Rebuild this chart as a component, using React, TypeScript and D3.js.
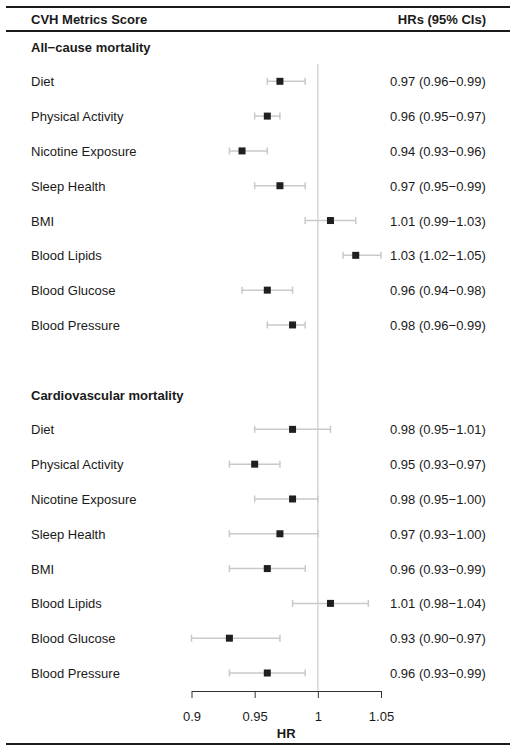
import React, { useEffect, useRef } from 'react';
import * as d3 from 'd3';

const metrics = [
  'Diet',
  'Physical Activity',
  'Nicotine Exposure',
  'Sleep Health',
  'BMI',
  'Blood Lipids',
  'Blood Glucose',
  'Blood Pressure',
];
const groups = ['All\u2212cause mortality', 'Cardiovascular mortality'];

const allHR = [0.97, 0.96, 0.94, 0.97, 1.01, 1.03, 0.96, 0.98];
const allLo = [0.96, 0.95, 0.93, 0.95, 0.99, 1.02, 0.94, 0.96];
const allHi = [0.99, 0.97, 0.96, 0.99, 1.03, 1.05, 0.98, 0.99];

const cvHR = [0.98, 0.95, 0.98, 0.97, 0.96, 1.01, 0.93, 0.96];
const cvLo = [0.95, 0.93, 0.95, 0.93, 0.93, 0.98, 0.9, 0.93];
const cvHi = [1.01, 0.97, 1.0, 1.0, 0.99, 1.04, 0.97, 0.99];

const xTicks = [0.9, 0.95, 1, 1.05];

interface Row {
  label: string;
  hr: number;
  lo: number;
  hi: number;
  idx: number;
}

const fmt = (v: number) => v.toFixed(2);

const App: React.FC = () => {
  const svgRef = useRef<SVGSVGElement>(null);
  const width = 526;
  const height = 753;

  useEffect(() => {
    if (!svgRef.current) return;
    const svg = d3.select(svgRef.current);
    svg.selectAll('*').remove();

    const font = '"Liberation Sans", Arial, Helvetica, sans-serif';
    const textColor = '#1a1a1a';

    // rows: 0 header, 1-8 items, 9 blank, 10 header, 11-18 items
    const yScale = d3.scaleLinear().domain([0, 18]).range([46.5, 673]);
    const xScale = d3.scaleLinear().domain([0.9, 1.05]).range([191.5, 381]);
    const axisY = 691;

    const rows: Row[] = [
      ...metrics.map((m, i) => ({ label: m, hr: allHR[i], lo: allLo[i], hi: allHi[i], idx: i + 1 })),
      ...metrics.map((m, i) => ({ label: m, hr: cvHR[i], lo: cvLo[i], hi: cvHi[i], idx: i + 11 })),
    ];

    // frame lines
    const hline = (y: number) =>
      svg
        .append('line')
        .attr('x1', 6)
        .attr('x2', 510)
        .attr('y1', y)
        .attr('y2', y)
        .attr('stroke', textColor)
        .attr('stroke-width', 2);
    hline(7);
    hline(31);
    hline(744);

    // column headers
    svg
      .append('text')
      .attr('x', 31)
      .attr('y', 19.5)
      .attr('dominant-baseline', 'central')
      .style('font-family', font)
      .style('font-size', '13px')
      .style('font-weight', 'bold')
      .attr('fill', textColor)
      .text('CVH Metrics Score');

    svg
      .append('text')
      .attr('x', 486)
      .attr('y', 19.5)
      .attr('text-anchor', 'end')
      .attr('dominant-baseline', 'central')
      .style('font-family', font)
      .style('font-size', '13px')
      .style('font-weight', 'bold')
      .attr('fill', textColor)
      .text('HRs (95% CIs)');

    // group headers
    svg
      .selectAll('.group')
      .data(groups)
      .enter()
      .append('text')
      .attr('x', 31)
      .attr('y', (_d, i) => yScale(i * 10) + 0.5)
      .attr('dominant-baseline', 'central')
      .style('font-family', font)
      .style('font-size', '13px')
      .style('font-weight', 'bold')
      .attr('fill', textColor)
      .text(d => d);

    // reference line at HR = 1
    svg
      .append('line')
      .attr('x1', xScale(1))
      .attr('x2', xScale(1))
      .attr('y1', 64)
      .attr('y2', axisY)
      .attr('stroke', '#d6d6d6')
      .attr('stroke-width', 1.5);

    // labels
    svg
      .selectAll('.label')
      .data(rows)
      .enter()
      .append('text')
      .attr('x', 31)
      .attr('y', d => yScale(d.idx) + 0.5)
      .attr('dominant-baseline', 'central')
      .style('font-family', font)
      .style('font-size', '13px')
      .attr('fill', textColor)
      .text(d => d.label);

    // value text
    svg
      .selectAll('.value')
      .data(rows)
      .enter()
      .append('text')
      .attr('x', 390)
      .attr('y', d => yScale(d.idx) + 0.5)
      .attr('dominant-baseline', 'central')
      .style('font-family', font)
      .style('font-size', '13px')
      .attr('fill', textColor)
      .text(d => `${fmt(d.hr)} (${fmt(d.lo)}\u2212${fmt(d.hi)})`);

    // CIs
    const ciColor = '#c9c9c9';
    const ci = svg.selectAll('.ci').data(rows).enter().append('g');
    ci.append('line')
      .attr('x1', d => xScale(d.lo))
      .attr('x2', d => xScale(d.hi))
      .attr('y1', d => yScale(d.idx))
      .attr('y2', d => yScale(d.idx))
      .attr('stroke', ciColor)
      .attr('stroke-width', 1.5);
    ci.append('line')
      .attr('x1', d => xScale(d.lo))
      .attr('x2', d => xScale(d.lo))
      .attr('y1', d => yScale(d.idx) - 3.5)
      .attr('y2', d => yScale(d.idx) + 3.5)
      .attr('stroke', ciColor)
      .attr('stroke-width', 1.5);
    ci.append('line')
      .attr('x1', d => xScale(d.hi))
      .attr('x2', d => xScale(d.hi))
      .attr('y1', d => yScale(d.idx) - 3.5)
      .attr('y2', d => yScale(d.idx) + 3.5)
      .attr('stroke', ciColor)
      .attr('stroke-width', 1.5);

    // point estimates
    const sq = 7;
    svg
      .selectAll('.pt')
      .data(rows)
      .enter()
      .append('rect')
      .attr('x', d => xScale(d.hr) - sq / 2)
      .attr('y', d => yScale(d.idx) - sq / 2)
      .attr('width', sq)
      .attr('height', sq)
      .attr('fill', '#1f1f1f');

    // x axis
    const axis = svg
      .append('g')
      .attr('transform', `translate(0,${axisY})`)
      .call(
        d3
          .axisBottom(xScale)
          .tickValues(xTicks)
          .tickFormat(d => String(d))
          .tickSizeOuter(0)
          .tickSizeInner(7)
          .tickPadding(14)
      );
    axis.select('.domain').attr('stroke', '#333').attr('stroke-width', 1);
    axis.selectAll('.tick line').attr('stroke', '#333').attr('stroke-width', 1);
    axis
      .selectAll('.tick text')
      .style('font-family', font)
      .style('font-size', '13px')
      .attr('fill', textColor);

    svg
      .append('text')
      .attr('x', xScale(0.975))
      .attr('y', 733)
      .attr('text-anchor', 'middle')
      .attr('dominant-baseline', 'central')
      .style('font-family', font)
      .style('font-size', '13px')
      .style('font-weight', 'bold')
      .attr('fill', textColor)
      .text('HR');
  }, []);

  return (
    <svg
      ref={svgRef}
      width={width}
      height={height}
      style={{ position: 'absolute', left: 0, top: 0, background: '#fff' }}
    />
  );
};

export default App;
